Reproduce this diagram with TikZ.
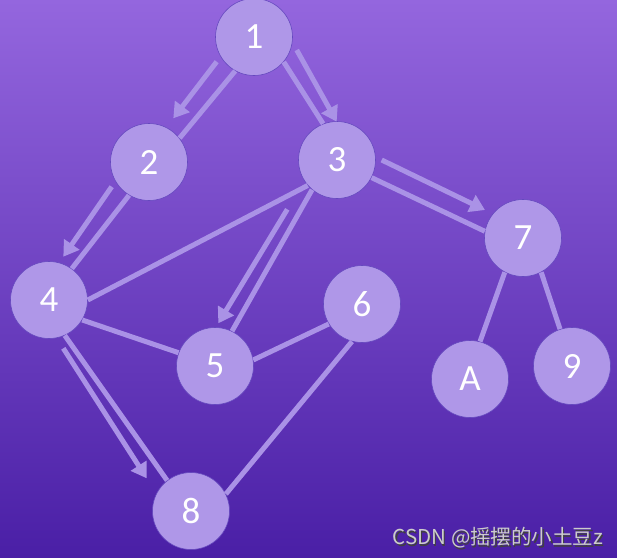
\documentclass[tikz,border=0pt]{standalone}
\usepackage{fontspec}
\setmainfont{Carlito}
\newfontfamily\cjkfont{Noto Sans CJK SC}
\usetikzlibrary{arrows.meta}

\definecolor{bgtop}{HTML}{9466DE}
\definecolor{bgmid}{HTML}{6B38CC}
\definecolor{bgbot}{HTML}{4A1FA6}
\definecolor{vfill}{HTML}{AF97E8}
\definecolor{vline}{HTML}{6548BE}
\definecolor{eline}{HTML}{AA92E6}

\tikzset{
  vertex/.style={circle,fill=vfill,draw=vline,line width=0.6pt,minimum size=77pt,inner sep=0pt,
    text=white,font=\fontsize{37}{37}\selectfont},
  edge/.style={eline,line width=5pt},
  walk/.style={eline,line width=5pt,-{Triangle[length=15pt,width=18pt]}},
  mark text/.style={font=\cjkfont\fontsize{20.5}{20.5}\selectfont}
}

\begin{document}
\begin{tikzpicture}[x=1pt,y=-1pt]
  \useasboundingbox (0,0) rectangle (617,557);
  \shade[top color=bgtop,middle color=bgmid,bottom color=bgbot] (0,0) rectangle (617,557);
  % vertices
  \node[vertex] (n1) at (254,37) {1};
  \node[vertex] (n2) at (149,162) {2};
  \node[vertex] (n3) at (337,160) {3};
  \node[vertex] (n4) at (49,300) {4};
  \node[vertex] (n5) at (215,366) {5};
  \node[vertex] (n6) at (362,304) {6};
  \node[vertex] (n7) at (523,238) {7};
  \node[vertex] (nA) at (470,379) {A};
  \node[vertex] (n9) at (572,366) {9};
  \node[vertex] (n8) at (191,511) {8};
  % edges
  \draw[edge] (n1.241) -- (n2.38);
  \draw[edge] (n1.-40) -- (n3.111);
  \draw[edge] (n2.-121) -- (n4.54);
  \draw[edge] (n3.221) -- (n4.0);
  \draw[edge] (n3.230) -- (n5.64);
  \draw[edge] (n3.-27) -- (n7.170);
  \draw[edge] (n4.-31) -- (n5.160);
  \draw[edge] (n4.-66) -- (n8.128);
  \draw[edge] (n5.9) -- (n6.211);
  \draw[edge] (n6.-105) -- (n8.26);
  \draw[edge] (n7.-118) -- (nA.75);
  \draw[edge] (n7.-62) -- (n9.108);
  % traversal arrows
  \coordinate (w12s) at (216.7,61.7);
  \coordinate (w12e) at (173.3,118.3);
  \coordinate (w13s) at (296.7,50);
  \coordinate (w13e) at (336.7,121.7);
  \coordinate (w24s) at (111.7,186.7);
  \coordinate (w24e) at (63.3,256.7);
  \coordinate (w35s) at (287.3,209.3);
  \coordinate (w35e) at (218.3,323.3);
  \coordinate (w37s) at (381.7,160);
  \coordinate (w37e) at (485,210);
  \coordinate (w48s) at (63.3,348.3);
  \coordinate (w48e) at (146.7,478.3);
  \draw[walk] (w12s) -- (w12e);
  \draw[walk] (w13s) -- (w13e);
  \draw[walk] (w24s) -- (w24e);
  \draw[walk] (w35s) -- (w35e);
  \draw[walk] (w37s) -- (w37e);
  \draw[walk] (w48s) -- (w48e);
  % watermark
  \node[mark text,text=black!75] (wms) at (499.2,539.2) {CSDN @摇摆的小土豆z};
  \node[mark text,text=black!20] (wm) at (498,538) {CSDN @摇摆的小土豆z};
\end{tikzpicture}
\end{document}
